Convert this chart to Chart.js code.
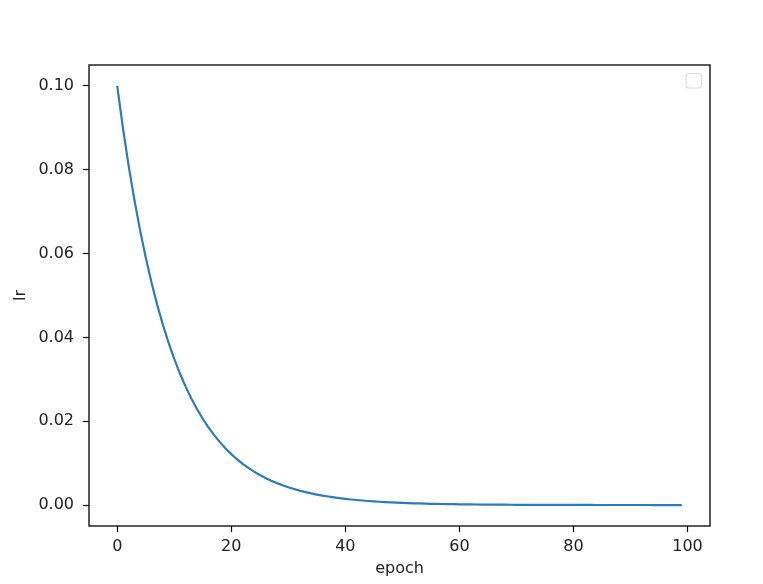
<!DOCTYPE html>
<html>
<head>
<meta charset="utf-8">
<script src="https://cdn.jsdelivr.net/npm/chart.js@4.4.0/dist/chart.umd.min.js"></script>
<style>
    html, body { margin: 0; padding: 0; background: #fff; }
    #wrap { width: 763px; height: 584px; }
</style>
</head>
<body>
<div id="wrap"><canvas id="myChart" width="763" height="584"></canvas></div>
<script>
// epochs and learning rate
const epochs = [
    0, 1, 2, 3, 4, 5, 6, 7, 8, 9, 10, 11, 12, 13, 14, 15, 16, 17, 18, 19,
    20, 21, 22, 23, 24, 25, 26, 27, 28, 29, 30, 31, 32, 33, 34, 35, 36, 37, 38, 39,
    40, 41, 42, 43, 44, 45, 46, 47, 48, 49, 50, 51, 52, 53, 54, 55, 56, 57, 58, 59,
    60, 61, 62, 63, 64, 65, 66, 67, 68, 69, 70, 71, 72, 73, 74, 75, 76, 77, 78, 79,
    80, 81, 82, 83, 84, 85, 86, 87, 88, 89, 90, 91, 92, 93, 94, 95, 96, 97, 98, 99
];
const lr = [
    0.1, 0.09, 0.081, 0.0729, 0.06561, 0.05905, 0.05314, 0.04783, 0.04305, 0.03874,
    0.03487, 0.03138, 0.02824, 0.02542, 0.02288, 0.02059, 0.01853, 0.01668, 0.01501, 0.01351,
    0.01216, 0.01094, 0.00985, 0.00886, 0.00798, 0.00718, 0.00646, 0.00581, 0.00523, 0.00471,
    0.00424, 0.00382, 0.00343, 0.00309, 0.00278, 0.00250, 0.00225, 0.00203, 0.00182, 0.00164,
    0.00148, 0.00133, 0.00120, 0.00108, 0.00097, 0.00087, 0.00079, 0.00071, 0.00064, 0.00057,
    0.00052, 0.00046, 0.00042, 0.00038, 0.00034, 0.00030, 0.00027, 0.00025, 0.00022, 0.00020,
    0.00018, 0.00016, 0.00015, 0.00013, 0.00012, 0.00011, 0.00010, 0.00009, 0.00008, 0.00007,
    0.00006, 0.00006, 0.00005, 0.00005, 0.00004, 0.00004, 0.00003, 0.00003, 0.00003, 0.00002,
    0.00002, 0.00002, 0.00002, 0.00002, 0.00001, 0.00001, 0.00001, 0.00001, 0.00001, 0.00001,
    0.00001, 0.00001, 0.00001, 0.00001, 0.00000, 0.00000, 0.00000, 0.00000, 0.00000, 0.00000
];
const xTicks = [0, 20, 40, 60, 80, 100];
const yTicks = [0, 0.02, 0.04, 0.06, 0.08, 0.10];

const font = { family: 'DejaVu Sans', size: 16 };

// matplotlib-style frame on all four sides plus the empty legend box
const framePlugin = {
    id: 'frame',
    afterDraw(chart) {
        const { ctx, chartArea: a } = chart;
        ctx.save();
        ctx.strokeStyle = '#000';
        ctx.lineWidth = 1.3;
        ctx.strokeRect(a.left, a.top, a.right - a.left, a.bottom - a.top);

        ctx.strokeStyle = '#dcdcdc';
        ctx.lineWidth = 1.2;
        ctx.beginPath();
        ctx.roundRect(a.right - 24, a.top + 8.5, 15.5, 14.5, 3);
        ctx.stroke();
        ctx.restore();
    }
};

let myChart = document.getElementById('myChart').getContext('2d');

let lrChart = new Chart(myChart, {
    type: 'line',
    data: {
        datasets: [{
            data: epochs.map((e, i) => ({ x: e, y: lr[i] })),
            borderColor: '#2a7dbb',
            borderWidth: 2.2,
            pointRadius: 0,
            tension: 0,
            fill: false,
        }]
    },
    options: {
        responsive: false,
        animation: false,
        layout: {
            padding: { top: 65, right: 53, left: 0, bottom: 0 }
        },
        plugins: {
            legend: { display: false },
            tooltip: { enabled: false }
        },
        scales: {
            x: {
                type: 'linear',
                min: -4.95,
                max: 103.95,
                afterBuildTicks: (s) => { s.ticks = xTicks.map(v => ({ value: v })); },
                afterFit: (s) => { s.height = 58; },
                grid: {
                    drawOnChartArea: false,
                    tickLength: 6,
                    tickColor: '#000',
                    tickWidth: 1.2
                },
                border: { display: false },
                ticks: {
                    font: font,
                    color: '#222',
                    padding: 5,
                    maxRotation: 0,
                    callback: (v) => String(v)
                },
                title: {
                    display: true,
                    text: 'epoch',
                    font: font,
                    color: '#222',
                    padding: { top: 0, bottom: 6 }
                }
            },
            y: {
                type: 'linear',
                min: -0.005,
                max: 0.105,
                afterBuildTicks: (s) => { s.ticks = yTicks.map(v => ({ value: v })); },
                afterFit: (s) => { s.width = 89; },
                grid: {
                    drawOnChartArea: false,
                    tickLength: 6,
                    tickColor: '#000',
                    tickWidth: 1.2
                },
                border: { display: false },
                ticks: {
                    font: font,
                    color: '#222',
                    padding: 9,
                    callback: (v) => v.toFixed(2)
                },
                title: {
                    display: true,
                    text: 'lr',
                    font: font,
                    color: '#222',
                    padding: { top: 11, bottom: 0 }
                }
            }
        }
    },
    plugins: [framePlugin]
});
</script>
</body>
</html>
